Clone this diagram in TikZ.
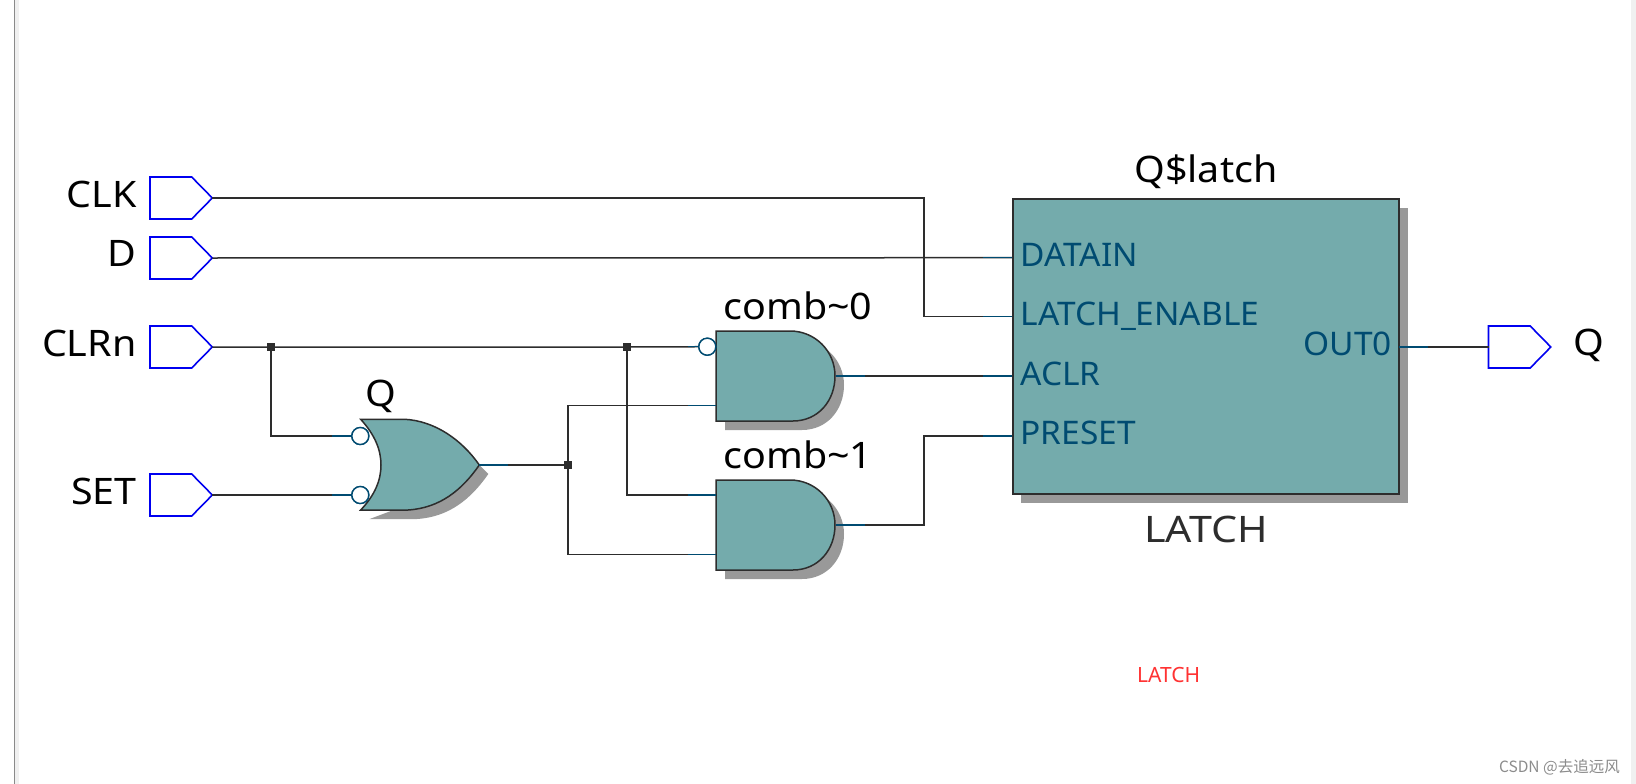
\documentclass[tikz,border=0pt]{standalone}
\usepackage{fontspec}
\setmainfont{Noto Sans}
\newfontfamily\bigfam[FakeStretch=1.08]{Noto Sans}
\newfontfamily\typefam[FakeStretch=1.13]{Noto Sans}
\newfontfamily\portfam[FakeStretch=1.03]{Noto Sans}
\newfontfamily\cjkwm{Noto Sans CJK SC}
\definecolor{gatefill}{HTML}{74ABAC}
\definecolor{shadowgray}{HTML}{999999}
\definecolor{wirecol}{HTML}{2D2D2D}
\definecolor{stubcol}{HTML}{004B71}
\definecolor{pinblue}{HTML}{0000F0}
\definecolor{latchred}{HTML}{FF3333}
\definecolor{sidegray}{HTML}{F0F0F0}
\tikzset{
  wire/.style={draw=wirecol,line width=1.5pt},
  stub/.style={draw=stubcol,line width=1.5pt},
  gateoutline/.style={draw=wirecol,fill=gatefill,line width=1.5pt},
  dropshadow/.style={fill=shadowgray},
  bubble/.style={circle,draw=stubcol,fill=white,line width=1.4pt,inner sep=0pt,minimum size=17pt},
  junction/.style={fill=wirecol,inner sep=0pt,minimum size=8pt},
  biglabel/.style={font=\bigfam\fontsize{36.5}{36}\selectfont,text=black,inner sep=0pt},
  portlabel/.style={font=\portfam\fontsize{32.5}{32}\selectfont,text=stubcol,inner sep=0pt},
  pinshape/.pic={
    \draw[draw=pinblue,line width=1.6pt,fill=white,line join=miter]
      (0,-21)--(41.7,-21)--(62.3,0)--(41.7,21)--(0,21)--cycle;
    \coordinate (-in) at (0,0);
    \coordinate (-tip) at (62.3,0);
  },
  andshape/.pic={
    \fill[dropshadow] (9,-36) -- (83,-36) .. controls (108,-36) and (128,-16) .. (128,9)
      .. controls (128,34) and (111,54) .. (86,54) -- (9,54) -- cycle;
    \draw[gateoutline] (0,-45) -- (74,-45) .. controls (99,-45) and (119,-25) .. (119,0)
      .. controls (119,25) and (102,45) .. (77,45) -- (0,45) -- cycle;
    \coordinate (-a) at (0,-30);
    \coordinate (-b) at (0,29.5);
    \coordinate (-y) at (120,0);
  },
}
\begin{document}
\begin{tikzpicture}[x=1pt,y=-1pt]
\useasboundingbox (0,0) rectangle (1636,784);
\fill[white] (0,0) rectangle (1636,784);
% window edges
\fill[sidegray] (14,0) rectangle (19,784);
\fill[shadowgray!90!black] (13.5,0) rectangle (14.8,784);
\fill[sidegray] (1630.6,0) rectangle (1636,784);

% block
\fill[dropshadow] (1021,207.5) rectangle (1408,503);
\node[gateoutline,rectangle,inner sep=0pt,anchor=north west,minimum width=386pt,minimum height=295pt] (latch) at (1012.3,198.3) {};
\coordinate (datain) at (1012.3,257.7);
\coordinate (lenable) at (1012.3,316.7);
\coordinate (aclr) at (1012.3,376);
\coordinate (preset) at (1012.3,436);
\coordinate (out0) at (1398.5,347);

% input / output pins
\pic (clk) at (150,198) {pinshape};
\pic (d) at (150,258) {pinshape};
\pic (clrn) at (150,347) {pinshape};
\pic (set) at (150,495) {pinshape};
\pic (q) at (1488.5,347) {pinshape};

% gates
\pic (g0) at (716,376) {andshape};
\pic (g1) at (716,525) {andshape};
\fill[dropshadow] (369.7,519) -- (417,519) .. controls (449,517) and (471,499) .. (488.3,474)
  -- (479.3,465) -- (420,500) -- cycle;
\draw[gateoutline] (360.7,419.3) -- (405,419.3) .. controls (435,421) and (462,440) .. (479.3,465)
  .. controls (462,490) and (440,508) .. (408,510) -- (360.7,510)
  .. controls (375,495) and (381,480) .. (381,465) .. controls (381,450) and (375,435) .. (360.7,419.3) -- cycle;
\coordinate (ory) at (479.3,465);
\node[bubble] (orb1) at (360.3,436) {};
\node[bubble] (orb2) at (360.3,495) {};
\node[bubble] (g0b) at (707.3,346.7) {};

% junctions
\node[junction] (j1) at (271,347) {};
\node[junction] (j2) at (627,347) {};
\node[junction] (j3) at (568,465) {};

% wires
\draw[wire] (clk-tip) -- (924,198) |- (lenable);
\draw[wire] (d-tip) -- (datain);
\draw[wire] (clrn-tip) -- (j1) -- (j2) -- (g0b);
\draw[wire] (j1) |- (orb1);
\draw[wire] (set-tip) -- (orb2);
\draw[wire] (ory) -- (j3);
\draw[wire] (j3) |- (g0-b);
\draw[wire] (j3) |- (g1-b);
\draw[wire] (j2) |- (g1-a);
\draw[wire] (g0-y) -- (aclr);
\draw[wire] (g1-y) -| (924,436) -- (preset);
\draw[wire] (out0) -- (q-in);

% stubs
\foreach \p in {datain,lenable,aclr,preset}
  \draw[stub] (\p) -- ++(-29,0);
\draw[stub] (out0) -- ++(29,0);
\draw[stub] (orb1) ++(-8.5,0) -- ++(-20,0);
\draw[stub] (orb2) ++(-8.5,0) -- ++(-20,0);
\draw[stub] (g0b) ++(-8.5,0) -- ++(-11,0);
\draw[stub] (g0-b) -- ++(-28,0);
\draw[stub] (g1-a) -- ++(-28,0);
\draw[stub] (g1-b) -- ++(-28,0);
\draw[stub] (g0-y) -- ++(29,0);
\draw[stub] (g1-y) -- ++(29,0);
\draw[stub] (ory) -- ++(29,0);
\node[bubble] at (orb1) {};
\node[bubble] at (orb2) {};
\node[bubble] at (g0b) {};

% pin labels
\node[biglabel,anchor=base east] (lclk) at (136.7,207.3) {CLK};
\node[biglabel,anchor=base east] (ld) at (136.7,266.7) {D};
\node[biglabel,anchor=base east] (lclrn) at (136.7,356.7) {CLRn};
\node[biglabel,anchor=base east] (lset) at (136.7,504.3) {SET};
\node[biglabel,anchor=base] (lq) at (1589,355) {Q};
\node[biglabel,anchor=base] (lorq) at (381,406.7) {Q};
\node[biglabel,anchor=base west] (lg0) at (723.3,319.3) {comb\textasciitilde 0};
\node[biglabel,anchor=base west] (lg1) at (723.3,468.3) {comb\textasciitilde 1};
\node[biglabel,anchor=base] (llatch) at (1206,182.7) {Q\$latch};
\node[biglabel,anchor=base,text=wirecol,font=\typefam\fontsize{36.5}{36}\selectfont] (ltype) at (1206,542) {LATCH};

% port labels
\node[portlabel,anchor=base west] (pd) at (1020.3,266.7) {DATAIN};
\node[portlabel,anchor=base west] (pe) at (1020.3,325.7) {LATCH\_ENABLE};
\node[portlabel,anchor=base west] (pa) at (1020.3,385.7) {ACLR};
\node[portlabel,anchor=base west] (pp) at (1020.3,444.7) {PRESET};
\node[portlabel,anchor=base east] (po) at (1392,355.7) {OUT0};

% notes
\node[font=\fontsize{21}{21}\selectfont,text=latchred,inner sep=0pt,anchor=base west] (redl) at (1137,682) {LATCH};
\node[font=\cjkwm\fontsize{15.5}{16}\selectfont,text=black!45,inner sep=0pt,anchor=base east] (wm) at (1620,772) {CSDN @去追远风};
\end{tikzpicture}
\end{document}
